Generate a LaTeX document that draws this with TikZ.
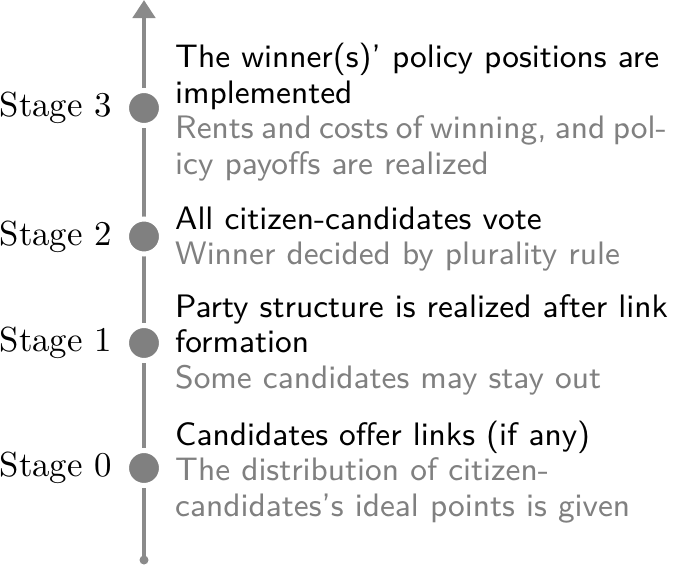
\documentclass[tikz,border=0pt]{standalone}
\usepackage{fontspec}
\usepackage{graphicx}
\usetikzlibrary{arrows.meta}
\definecolor{linegray}{RGB}{138,138,138}
\definecolor{dotgray}{RGB}{128,128,128}
\definecolor{descgray}{RGB}{128,128,128}
\newcommand{\bigtxt}[1]{\scalebox{3.48}{#1}}
\newcommand{\bigsf}[1]{\scalebox{3.61}{#1}}
\begin{document}
\begin{tikzpicture}[x=1pt,y=-1pt,
  stagelabel/.style={anchor=east,inner sep=0pt,font=\normalsize},
  titleline/.style={anchor=base west,inner sep=0pt,font=\sffamily\small,text=black},
  descline/.style={titleline,text=descgray},
  stagedot/.style={circle,fill=dotgray,draw=white,line width=5pt,minimum size=35pt,inner sep=0pt},
  axisline/.style={draw=linegray,line width=4.5pt,-{Triangle[width=22pt,length=18pt]}},
  enddot/.style={circle,fill=linegray,minimum size=9pt,inner sep=0pt}]
\useasboundingbox (0,0) rectangle (685,565);
% axis
\node[enddot] (bot) at (144,560) {};
\coordinate (top) at (144,0);
\draw[axisline] (bot.center) -- (top);
% stage dots
\node[stagedot] (d3) at (144,108) {};
\node[stagedot] (d2) at (144,236.5) {};
\node[stagedot] (d1) at (144,343) {};
\node[stagedot] (d0) at (144,468) {};
% stage labels
\node[stagelabel] (s3) at (112,108) {\bigtxt{Stage 3}};
\node[stagelabel] (s2) at (112,236.5) {\bigtxt{Stage 2}};
\node[stagelabel] (s1) at (112,343) {\bigtxt{Stage 1}};
\node[stagelabel] (s0) at (112,468) {\bigtxt{Stage 0}};
% stage 3 text
\node[titleline] (t3a) at (175,67.5) {\bigsf{The winner(s)' policy positions are}};
\node[titleline] (t3b) at (175,103) {\bigsf{implemented}};
\node[descline] (t3c) at (175,138.5) {\bigsf{\hbox to 133.6pt{Rents and costs of winning, and pol-}}};
\node[descline] (t3d) at (175,174) {\bigsf{icy payoffs are realized}};
% stage 2 text
\node[titleline] (t2a) at (175,229) {\bigsf{All citizen-candidates vote}};
\node[descline] (t2b) at (175,264.5) {\bigsf{Winner decided by plurality rule}};
% stage 1 text
\node[titleline] (t1a) at (175,317) {\bigsf{Party structure is realized after link}};
\node[titleline] (t1b) at (175,352.5) {\bigsf{formation}};
\node[descline] (t1c) at (175,388) {\bigsf{Some candidates may stay out}};
% stage 0 text
\node[titleline] (t0a) at (175,445) {\bigsf{Candidates offer links (if any)}};
\node[descline] (t0b) at (175,480.5) {\bigsf{The distribution of citizen-}};
\node[descline] (t0c) at (175,516) {\bigsf{candidates's ideal points is given}};
\end{tikzpicture}
\end{document}
